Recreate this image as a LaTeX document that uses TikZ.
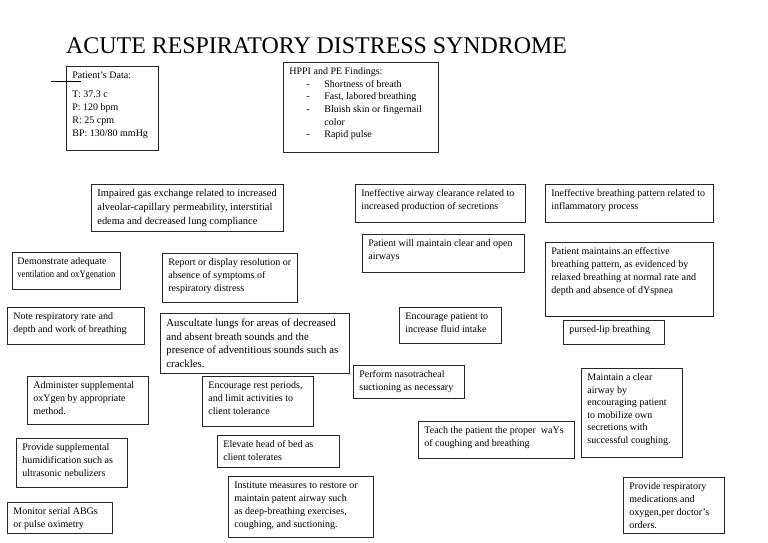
\documentclass[tikz,border=0pt]{standalone}
\usepackage{fontspec}
\setmainfont{Liberation Serif}
\usepackage{tikz}
\usetikzlibrary{positioning}
\tikzset{
	% plan box
	card/.style={
		draw=black!85,
		line width=0.8pt,
		anchor=north west,
		inner xsep=6pt,
		inner ysep=3.5pt,
		font=\fontsize{10}{12.8}\selectfont
	}, %
	% title
	heading/.style={
		anchor=base west,
		inner sep=0pt,
		font=\fontsize{23.9}{27}\selectfont
	} %
}
% [style], name, x, y, width, height, text
\newcommand{\card}[7][]{%
	\node [card, #1] (#2) at (#3,#4) {\parbox[c][\dimexpr#6pt-7pt\relax][t]{\dimexpr#5pt-12pt\relax}{\begin{tabular}[t]{@{}l@{}}#7\end{tabular}}};
}
\newcommand{\dashitem}{\makebox[35pt][l]{\hspace{17pt}-}}

\begin{document}
\begin{tikzpicture}[x=1pt, y=-1pt]
			\useasboundingbox (0,0) rectangle (768,543);
			
			%% Title
			\node [heading] (title) at (66,54) {ACUTE RESPIRATORY DISTRESS SYNDROME};
			
			%% Patient data, findings
			\card{pdata}{66}{66}{92}{84}{Patient’s Data:\\[6pt] T: 37.3 c\\ P: 120 bpm\\ R: 25 cpm\\ BP: 130/80 mmHg}
			\coordinate (stubA) at (51,81);
			\coordinate (stubB) at (81,81);
			\draw [line width=0.8pt] (stubA) -- (stubB);
			\card[font=\fontsize{10}{12.6}\selectfont]{findings}{283}{62}{155}{90}{HPPI and PE Findings:\\
				\dashitem Shortness of breath\\
				\dashitem Fast, labored breathing\\
				\dashitem Bluish skin or fingernail\\
				\hspace*{35pt}color\\
				\dashitem Rapid pulse}
			
			%% Impaired gas exchange
			\card[font=\fontsize{10.4}{14}\selectfont, inner ysep=2.5pt]{gas}{91}{184}{192}{49}{Impaired gas exchange related to increased\\ alveolar-capillary permeability, interstitial\\ edema and decreased lung compliance}
			\card[inner xsep=5pt]{ventil}{12}{252}{110}{37}{Demonstrate adequate\\ {\addfontfeature{FakeStretch=0.86}ventilation and oxYgenation}}
			\card{report}{162}{253}{135}{49}{Report or display resolution or\\ absence of symptoms of\\ respiratory distress}
			\card{rate}{7}{307}{137}{37}{Note respiratory rate and\\ depth and work of breathing}
			\card[font=\fontsize{10.8}{13.6}\selectfont]{auscult}{160}{313}{189}{60}{Auscultate lungs for areas of decreased\\ and absent breath sounds and the\\ presence of adventitious sounds such as\\ crackles.}
			\card{oxygen}{27}{376}{121}{48}{Administer supplemental\\ oxYgen\ by appropriate\\ method.}
			\card{rest}{202}{376}{111}{50}{Encourage rest periods,\\ and limit activities to\\ client tolerance}
			\card{humid}{16}{438}{111}{49}{Provide supplemental\\ humidification such as\\ ultrasonic nebulizers}
			\card{elevate}{217}{435}{122}{32}{Elevate head of bed as\\ client tolerates}
			\card{measures}{228}{476}{145}{61}{Institute measures to restore or\\ maintain patent airway such\\ as deep-breathing exercises,\\ coughing, and suctioning.}
			\card{abg}{7}{502}{105}{31}{Monitor serial ABGs\\ or pulse oximetry}
			
			%% Ineffective airway clearance
			\card{airway}{355}{184}{170}{38}{Ineffective airway clearance related to\\ increased production of secretions}
			\card{openair}{362}{234}{162}{38}{Patient will maintain clear and open\\ airways}
			\card{fluid}{399}{307}{102}{36}{Encourage patient to\\ increase fluid intake}
			\card{suction}{353}{365}{111}{33}{Perform nasotracheal\\ suctioning as necessary}
			\card{teach}{418}{421}{156}{37}{Teach the patient the proper\ \ waYs\\ of coughing and breathing}
			
			%% Ineffective breathing pattern
			\card{pattern}{545}{184}{168}{38}{Ineffective breathing pattern related to\\ inflammatory process}
			\card{effective}{545}{242}{168}{74}{Patient maintains an effective\\ breathing pattern, as evidenced by\\ relaxed breathing at normal rate and\\ depth and absence of dYspnea}
			\card{pursed}{563}{320}{101}{24}{pursed-lip breathing}
			\card[font=\fontsize{10}{12.5}\selectfont]{clear}{581}{368}{101}{89}{Maintain a clear\\ airway by\\ encouraging patient\\ to mobilize own\\ secretions with\\ successful coughing.}
			\card{meds}{623}{477}{101}{56}{Provide respiratory\\ medications and\\ oxygen,per doctor’s\\ orders.}
		\end{tikzpicture}
\end{document}
